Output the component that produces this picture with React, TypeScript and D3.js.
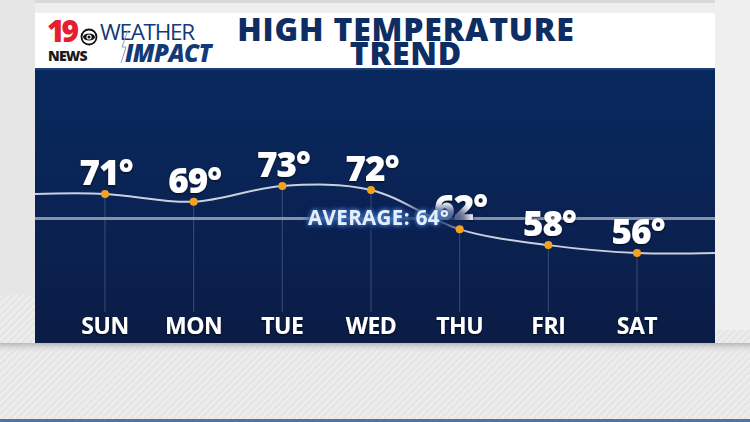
import React from "react";
import * as d3 from "d3";

const days = ["SUN", "MON", "TUE", "WED", "THU", "FRI", "SAT"];
const highs = [71, 69, 73, 72, 62, 58, 56];
const averageHigh = 64;
const titleLines = ["HIGH TEMPERATURE", "TREND"];

const W = 750;
const H = 422;
const panel = { left: 35, right: 715, top: 68, bottom: 343, headerTop: 13 };

export default function App() {
  const x = d3.scalePoint<string>().domain(days).range([105, 637]);
  const y = d3.scaleLinear().domain([56, 73]).range([253, 186]);

  const pts: [number, number][] = days.map((d, i) => [x(d) as number, y(highs[i])]);
  const linePts: [number, number][] = [
    [panel.left, y(highs[0])],
    ...pts,
    [panel.right, y(highs[highs.length - 1])],
  ];
  const line = d3.line().curve(d3.curveCatmullRom.alpha(0.5));
  const avgY = y(averageHigh) - 3;
  const font = "'Open Sans', 'Liberation Sans', Arial, sans-serif";

  return (
    <svg width={W} height={H} style={{ position: "absolute", left: 0, top: 0, display: "block" }}>
      <defs>
        <pattern id="stripes" width="5" height="5" patternUnits="userSpaceOnUse" patternTransform="rotate(45)">
          <rect width="5" height="5" fill="#e6e6e6" />
          <line x1="0" y1="0" x2="0" y2="5" stroke="#f4f4f4" strokeWidth="2" />
        </pattern>
        <linearGradient id="panelGrad" x1="0" y1="0" x2="0" y2="1">
          <stop offset="0" stopColor="#08295e" />
          <stop offset="0.5" stopColor="#0a2354" />
          <stop offset="1" stopColor="#0b1c45" />
        </linearGradient>
        <linearGradient id="shadowGrad" x1="0" y1="0" x2="0" y2="1">
          <stop offset="0" stopColor="#b9b9b9" />
          <stop offset="1" stopColor="#e4e4e4" stopOpacity="0" />
        </linearGradient>
        <filter id="glow" x="-20%" y="-60%" width="140%" height="220%">
          <feGaussianBlur in="SourceAlpha" stdDeviation="2.5" result="b" />
          <feFlood floodColor="#3f7fd0" floodOpacity="0.95" />
          <feComposite in2="b" operator="in" result="g" />
          <feMerge>
            <feMergeNode in="g" />
            <feMergeNode in="g" />
            <feMergeNode in="SourceGraphic" />
          </feMerge>
        </filter>
        <filter id="soft" x="-20%" y="-100%" width="140%" height="300%">
          <feGaussianBlur stdDeviation="4" />
        </filter>
        <filter id="shadow" x="-20%" y="-40%" width="140%" height="180%">
          <feDropShadow dx="0" dy="1" stdDeviation="1.2" floodColor="#000" floodOpacity="0.7" />
        </filter>
      </defs>

      {/* background */}
      <rect x={0} y={0} width={W} height={H} fill="url(#stripes)" />
      <rect x={0} y={0} width={W} height={panel.headerTop} fill="#eeeeee" />
      <rect x={0} y={0} width={W} height={3} fill="#d8d8d8" />
      <rect x={0} y={0} width={panel.left} height={295} fill="#e6e6e6" />
      <rect x={panel.right} y={0} width={W - panel.right} height={330} fill="#efefef" />
      <rect x={0} y={panel.bottom} width={W} height={10} fill="url(#shadowGrad)" />
      <rect x={0} y={H - 3} width={W} height={3} fill="#4d73a8" />

      {/* header */}
      <rect x={panel.left} y={panel.headerTop} width={panel.right - panel.left} height={panel.top - panel.headerTop} fill="#ffffff" />

      {/* logo */}
      <g fontFamily={font}>
        <text x={47} y={42} fill="#e4202f" fontSize={30} fontWeight={800} letterSpacing={-3}>19</text>
        <circle cx={89} cy={37} r={7.5} fill="#ffffff" stroke="#111" strokeWidth={1.8} />
        <ellipse cx={89} cy={37} rx={6} ry={3.5} fill="#111" />
        <circle cx={89} cy={37} r={2.6} fill="#fff" />
        <circle cx={89} cy={37} r={1.5} fill="#111" />
        <text x={48} y={61} fill="#1a1a1a" fontSize={14} fontWeight={800} letterSpacing={-0.8}>NEWS</text>
        <text x={100} y={40} fill="#123a78" fontSize={22.5} fontWeight={500} letterSpacing={-1.3}>WEATHER</text>
        <path d="M128,30 L122,47 L126,47 L121,63" fill="none" stroke="#8aa0c0" strokeWidth={1} />
        <text x={125} y={62} fill="#123a78" fontSize={24} fontWeight={800} fontStyle="italic" letterSpacing={-0.6}>IMPACT</text>
      </g>

      {/* title */}
      <g fontFamily={font} fontWeight={800} fill="#0d2d63" textAnchor="middle">
        {titleLines.map((t, i) => (
          <text key={t} x={406} y={41 + i * 24} fontSize={32} letterSpacing={0.8}>{t}</text>
        ))}
      </g>

      {/* panel */}
      <rect x={panel.left} y={panel.top} width={panel.right - panel.left} height={panel.bottom - panel.top} fill="url(#panelGrad)" />
      <rect x={panel.left} y={panel.top} width={panel.right - panel.left} height={2} fill="#1c3f7a" />

      {/* drop lines */}
      {pts.map(([px, py], i) => (
        <line key={days[i]} x1={px} x2={px} y1={py} y2={312} stroke="#6f86ab" strokeOpacity={0.45} strokeWidth={1} />
      ))}

      {/* average line */}
      <line x1={panel.left} x2={panel.right} y1={avgY} y2={avgY} stroke="#9ea6b4" strokeWidth={3} strokeOpacity={0.85} />

      {/* trend curve */}
      <path d={line(linePts) ?? ""} fill="none" stroke="#c9d1de" strokeWidth={2} />

      {/* temperature labels */}
      <g fontFamily={font} fontWeight={800} fill="#ffffff" textAnchor="middle" filter="url(#shadow)">
        {pts.map(([px, py], i) => (
          <text key={days[i]} x={px + 1} y={py - 9} fontSize={35} letterSpacing={-1}>{`${highs[i]}°`}</text>
        ))}
      </g>

      {/* average label */}
      <rect x={310} y={avgY - 11} width={158} height={22} rx={8} fill="#0a2458" opacity={0.7} filter="url(#soft)" />
      <text x={308} y={avgY + 7} fontFamily={font} fontWeight={700} fontSize={20.5} fill="#e6eef9" filter="url(#glow)" letterSpacing={0.4}>
        {`AVERAGE: ${averageHigh}°`}
      </text>

      {/* points */}
      {pts.map(([px, py], i) => (
        <circle key={days[i]} cx={px} cy={py} r={4} fill="#f5a31f" />
      ))}

      {/* day labels */}
      <g fontFamily={font} fontWeight={700} fill="#ffffff" textAnchor="middle" filter="url(#shadow)">
        {days.map((d) => (
          <text key={d} x={x(d) as number} y={334} fontSize={23} letterSpacing={-0.5}>{d}</text>
        ))}
      </g>
    </svg>
  );
}
